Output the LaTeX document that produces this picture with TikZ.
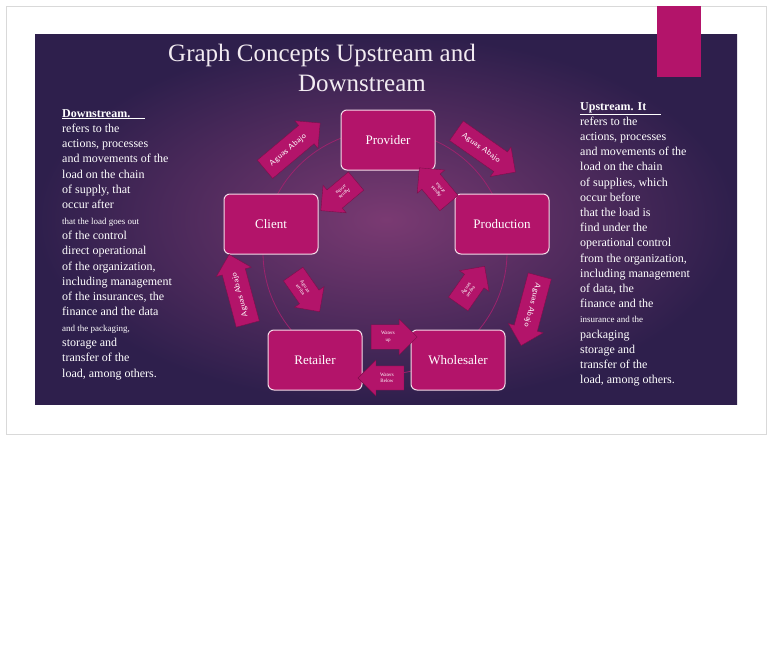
\documentclass[tikz,border=0pt]{standalone}
\usepackage{fontspec}
\setmainfont{Liberation Serif}
\usetikzlibrary{shapes.arrows}
\definecolor{mag}{HTML}{B3146A}
\definecolor{pin}{HTML}{7A3A72}
\definecolor{pout}{HTML}{2E1F4C}
\tikzset{
 box/.style={draw=white!85!mag,line width=1pt,fill=mag,rounded corners=6pt,minimum width=94pt,minimum height=60pt,text=white,font=\fontsize{13}{15}\selectfont},
 big/.style={single arrow,fill=mag,draw=mag!70!black,line width=0.4pt,text=white,font=\sffamily\fontsize{8}{9}\selectfont,minimum height=72pt,minimum width=36pt,single arrow head extend=6pt,inner xsep=2pt,inner ysep=8pt},
 small/.style={single arrow,fill=mag,draw=mag!70!black,line width=0.4pt,text=white,font=\sffamily\fontsize{5}{5.5}\selectfont,minimum height=46pt,minimum width=36pt,single arrow head extend=5pt,inner xsep=1pt,inner ysep=5pt,align=center},
 water/.style={single arrow,fill=mag,draw=mag!70!black,line width=0.4pt,text=white,font=\fontsize{5}{6.5}\selectfont,minimum height=46pt,minimum width=36pt,single arrow head extend=5pt,inner xsep=1pt,inner ysep=5pt,align=center},
 side/.style={anchor=base west,text=white,inner sep=0pt,font=\fontsize{12}{13}\selectfont},
 ttl/.style={text=white!90!pin,font=\fontsize{25}{28}\selectfont,inner sep=0pt,anchor=base},
}
\begin{document}
\begin{tikzpicture}[x=1pt,y=-1pt]
\useasboundingbox (0,0) rectangle (768,669);
\fill[white] (0,0) rectangle (768,669);
\draw[black!15] (6,6) rectangle (766,434);
\shade[inner color=pin,outer color=pout] (35,35) rectangle (737,404);
\fill[mag] (657,6) rectangle (701,77);
\draw[mag!60!pin,line width=0.8pt] (385,252) circle (122);
\node[ttl] (title1) at (322,62) {Graph Concepts Upstream and};
\node[ttl] (title2) at (362,92) {Downstream};
\node[box] (prov) at (388,140) {Provider};
\node[box] (cli) at (271,224) {Client};
\node[box] (prod) at (502,224) {Production};
\node[box] (ret) at (315,360) {Retailer};
\node[box] (whol) at (458,360) {Wholesaler};
\node[big,rotate=40] (a1) at (288,150) {Aguas Abajo};
\node[big,rotate=-35] (a2) at (481,148) {Aguas Abajo};
\node[big,rotate=-105] (a3) at (532,305) {Aguas Abajo};
\node[big,rotate=105] (a4) at (240,295) {Aguas Abajo};
\node[small,rotate=-140] (s1) at (343,192) {Aguas\\arriba};
\node[small,rotate=130] (s2) at (438,190) {Aguas\\arriba};
\node[small,rotate=-55] (s3) at (303,288) {Aguas\\arriba};
\node[small,rotate=55] (s4) at (468,290) {Aguas\\arriba};
\node[water] (wu) at (388,337) {Waters\\up};
\node[water,shape border rotate=180] (wb) at (387,378) {Waters\\Below};
\foreach [count=\i] \t in {{\textbf{\underline{Downstream.\hspace{1.2em}}}},refers to the,{actions, processes},and movements of the,load on the chain,{of supply, that},occur after,{\fontsize{9}{10}\selectfont that the load goes out},of the control,direct operational,{of the organization,},including management,{of the insurances, the},finance and the data,{\fontsize{9}{10}\selectfont and the packaging,},storage and,transfer of the,{load, among others.}}
  \node[side] (l\i) at (62,{117+15.3*(\i-1)}) {\t};
\foreach [count=\i] \t in {{\textbf{\underline{Upstream. It\hspace{1.2em}}}},refers to the,{actions, processes},and movements of the,load on the chain,{of supplies, which},occur before,that the load is,find under the,operational control,{from the organization,},including management,{of data, the},finance and the,{\fontsize{9}{10}\selectfont insurance and the},packaging,storage and,transfer of the,{load, among others.}}
  \node[side] (r\i) at (580,{110+15.2*(\i-1)}) {\t};
\end{tikzpicture}
\end{document}
